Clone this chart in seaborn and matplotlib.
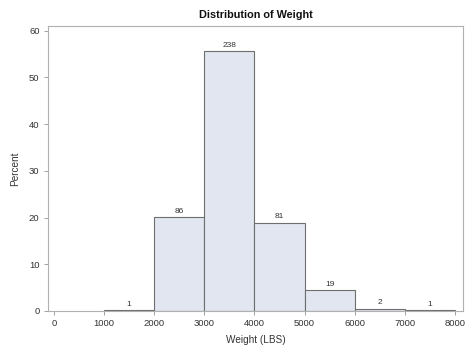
import seaborn as sns
import matplotlib
matplotlib.use("Agg")
import matplotlib.pyplot as plt

sns.set_theme(style="white")
plt.rcParams['font.family'] = ['Liberation Sans', 'DejaVu Sans']

# histogram data (Weight in LBS)
bin_edges = [1000, 2000, 3000, 4000, 5000, 6000, 7000, 8000]
bin_mids = [1500, 2500, 3500, 4500, 5500, 6500, 7500]
counts = [1, 86, 238, 81, 19, 2, 1]
x_ticks = [0, 1000, 2000, 3000, 4000, 5000, 6000, 7000, 8000]
y_ticks = [0, 10, 20, 30, 40, 50, 60]

fig = plt.figure(figsize=(4.74, 3.55), dpi=100)
ax = fig.add_axes([0.101, 0.124, 0.876, 0.803])

sns.histplot(x=bin_mids, weights=counts, bins=bin_edges, stat="percent",
             color="#E1E6F0", edgecolor="#6E6E6E", linewidth=0.8, alpha=1, ax=ax)

# count labels above bars
for patch, c in zip(ax.patches, counts):
    ax.text(patch.get_x() + patch.get_width() / 2, patch.get_height() + 0.5, str(c),
            ha="center", va="bottom", fontsize=6, color="#333333")

ax.set_xlim(-120, 8160)
ax.set_ylim(0, 61)
ax.set_xticks(x_ticks)
ax.set_yticks(y_ticks)
ax.tick_params(axis="both", labelsize=6.8, colors="#333333", length=3, width=0.6,
               direction="out", bottom=True, left=True, pad=3)
ax.tick_params(axis="both", color="#909090")
for s in ax.spines.values():
    s.set_color("#B0B0B0")
    s.set_linewidth(0.8)

ax.set_xlabel("Weight (LBS)", fontsize=7.2, color="#333333", labelpad=5)
ax.set_ylabel("Percent", fontsize=7.2, color="#333333", labelpad=6)
ax.set_title("Distribution of Weight", fontsize=7.8, fontweight="bold", color="#111111", pad=6)

fig.savefig("out.png", dpi=100)
